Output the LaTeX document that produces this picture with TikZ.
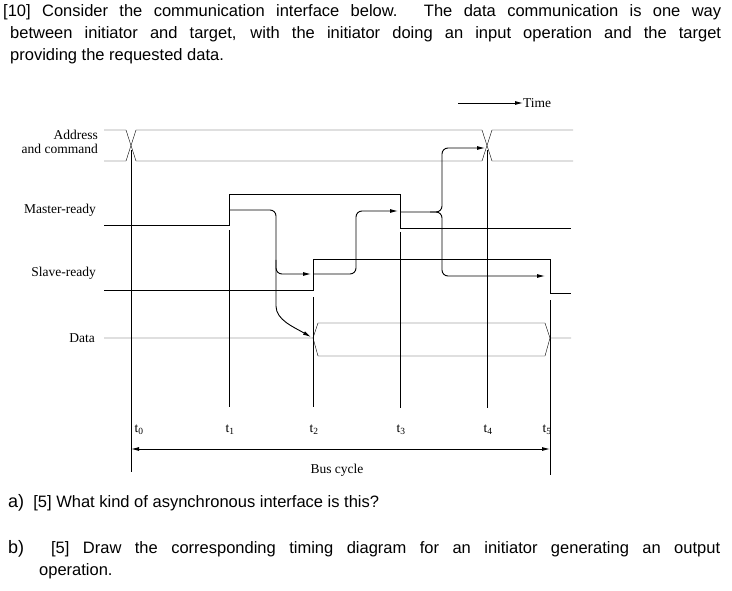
\documentclass[tikz,border=0pt]{standalone}
\usepackage{fontspec}
\setmainfont{Liberation Serif}
\newfontfamily\qfont{Liberation Sans}
\usetikzlibrary{arrows.meta,positioning}
\begin{document}
\begin{tikzpicture}[x=1pt,y=-1pt,
    signal/.style={line width=2.4pt,line join=round},
    tick/.style={line width=0.9pt},
    cause/.style={line width=0.9pt,rounded corners=6pt,-{Latex[length=8pt,width=4pt]}},
    sig/.style={font=\fontsize{13.5}{14}\selectfont,align=right,anchor=east,inner sep=0pt},
    tlabel/.style={font=\fontsize{13.5}{14}\selectfont,inner sep=0pt},
    question/.style={font=\qfont\fontsize{16.5}{22}\selectfont,anchor=north west,inner sep=0pt,align=justify},
	]
\useasboundingbox[fill=white] (0,0) rectangle (732,591);
\def\tzero{131}\def\tone{229}\def\ttwo{313}\def\tthree{400}\def\tfour{487}\def\tfive{550}

    %% Question text
    \node[question,text width=718pt] (head) at (3,4)
        {[10] Consider the communication interface below. The data communication is one way\linebreak
        \hspace*{7pt}between initiator and target, with the initiator doing an input operation and the target\linebreak
        \hspace*{7pt}providing the requested data.};
    \node[question] (qa) at (8,494) {{\fontsize{18}{22}\selectfont a)}\ \ [5] What kind of asynchronous interface is this?};
    \node[question,text width=712pt] (qb) at (8,540)
        {{\fontsize{18}{22}\selectfont b)}\ \ [5] Draw the corresponding timing diagram for an initiator generating an output\linebreak
        \hspace*{31pt}operation.};

    %% Signal names
    \node[sig] (addr) at (98,142) {Address\\and command};
    \node[sig] (mready) at (96,210) {Master-ready};
    \node[sig] (sready) at (96,273) {Slave-ready};
    \node[sig] (data) at (95,338) {Data};

    % Time arrow
    \coordinate (tstart) at (458,103);
    \node[tlabel,anchor=west] (time) at (523,103) {Time};
    \draw[line width=0.9pt,-{Latex[length=8pt,width=4pt]}] (tstart) -- (time.west);

    %% Waveforms
    {[signal]
        \draw (104,130) -- (126,130) -- (136,161) -- (482,161) -- (492,130) -- (573,130);
        \draw (104,161) -- (126,161) -- (136,130) -- (482,130) -- (492,161) -- (573,161);
        \draw (104,225) -- (\tone,225) -- (\tone,194) -- (\tthree,194) -- (\tthree,228) -- (571,228);
        \draw (104,290) -- (\ttwo,290) -- (\ttwo,259) -- (\tfive,259) -- (\tfive,293) -- (571,293);
        \draw (104,338) -- (\ttwo,338) -- (318,323) -- (545,323) -- (\tfive,338) -- (571,338);
        \draw (\ttwo,338) -- (318,356) -- (545,356) -- (\tfive,338);
    }

    %% Time marks
    {[tick]
        \draw (\tzero,150) -- (\tzero,472);
        \draw (\tone,230) -- (\tone,407);
        \draw (\ttwo,297) -- (\ttwo,407);
        \draw (\tthree,232) -- (\tthree,408);
        \draw (\tfour,150) -- (\tfour,408);
        \draw (\tfive,300) -- (\tfive,475);
    }
    \foreach \t/\n/\s in {\tzero/0/8,\tone/1/1,\ttwo/2/1,\tthree/3/1,\tfour/4/1,\tfive/5/-3}
        \node[tlabel,xshift=\s pt] (t\n) at (\t,430) {t\textsubscript{\n}};
    \coordinate (cycstart) at (\tzero,449);
    \coordinate (cycend) at (\tfive,449);
    \draw[line width=0.9pt,{Latex[length=8pt,width=4pt]}-{Latex[length=8pt,width=4pt]}] (cycstart) -- (cycend);
    \node[tlabel] (bus) at (337,470) {Bus cycle};

    %% Cause and effect
    \draw[cause] (\tone,210) -- (276,210) -- (276,274) -- (311,274);
    \draw[cause] (276,260) -- (276,300) to[out=-90,in=150] (311,337);
    \draw[cause] (314,274) -- (356,274) -- (356,211) -- (398,211);
    \draw[cause] (\tthree,212) -- (442,212) -- (442,148) -- (485,148);
    \draw[cause] (430,212) -- (442,212) -- (442,276) -- (545,276);
\end{tikzpicture}
\end{document}
